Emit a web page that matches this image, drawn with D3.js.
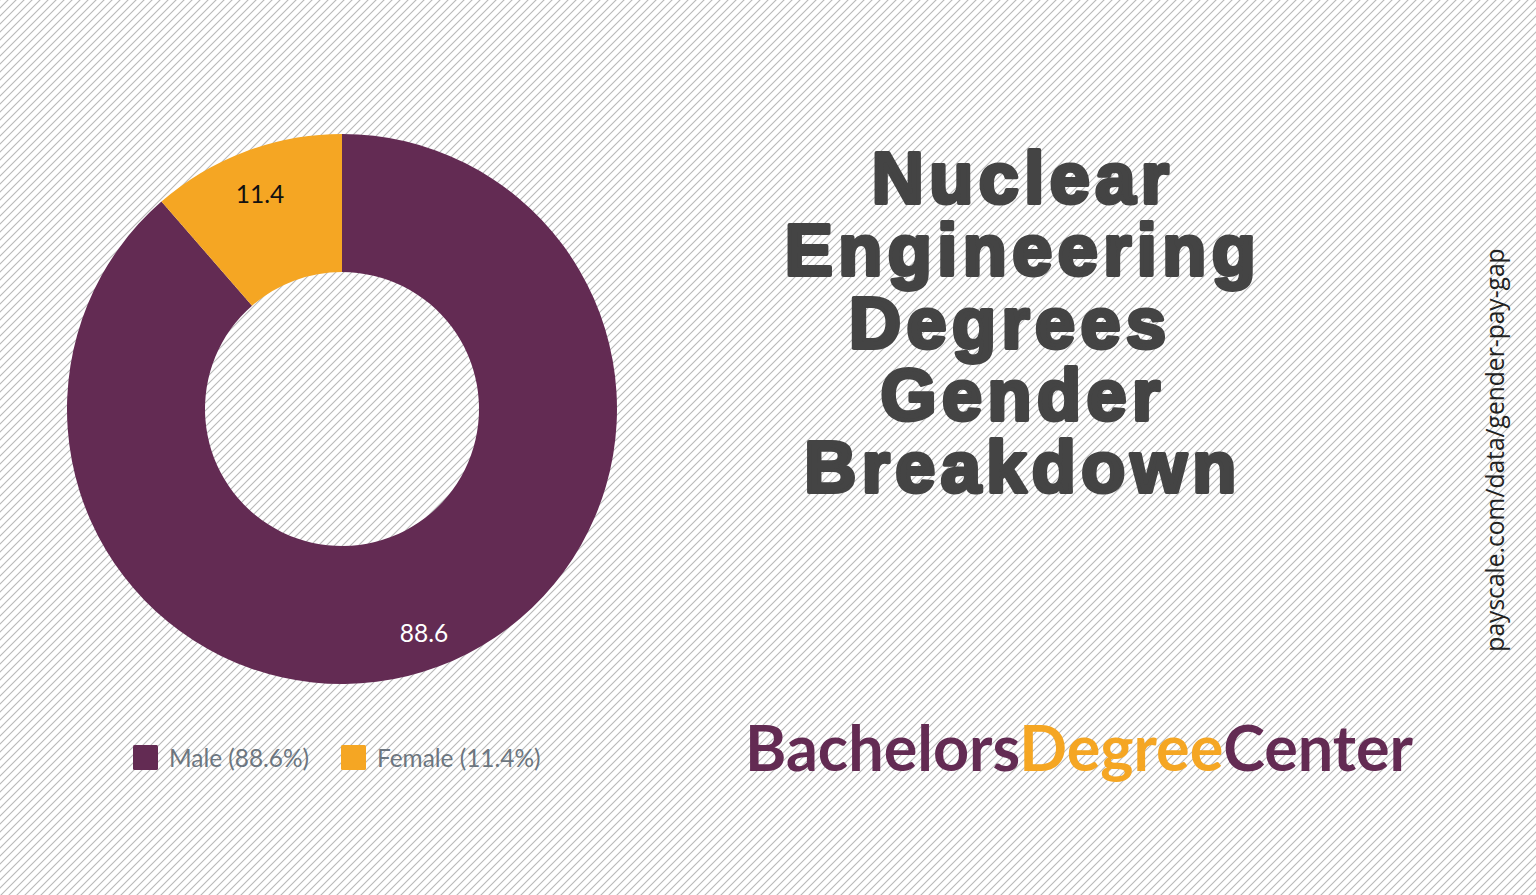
<!DOCTYPE html>
<html><head><meta charset="utf-8">
<script src="https://cdn.jsdelivr.net/npm/d3@7"></script>
<style>html,body{margin:0;padding:0;background:#fff;overflow:hidden}</style>
</head><body>
<svg id="chart" width="1536" height="895"></svg>
<script>
const categories = ["Male", "Female"];
const values = [88.6, 11.4];
const colors = ["#632b53", "#f5a623"];
const titleLines = ["Nuclear", "Engineering", "Degrees\u00a0", "Gender", "Breakdown"];
const sourceText = "payscale.com/data/gender-pay-gap";
const logoParts = [["Bachelors", "#632b53"], ["Degree", "#f5a623"], ["Center", "#632b53"]];

const svg = d3.select("#chart");
const defs = svg.append("defs");
const pat = defs.append("pattern").attr("id", "hatch").attr("patternUnits", "userSpaceOnUse")
  .attr("width", 8).attr("height", 8);
pat.append("rect").attr("width", 8).attr("height", 8).attr("fill", "#fff");
pat.append("path").attr("d", "M-2,2 L2,-2 M0,8 L8,0 M6,10 L10,6")
  .attr("stroke", "#b9b9b9").attr("stroke-width", 1.1);
svg.append("rect").attr("width", 1536).attr("height", 895).attr("fill", "url(#hatch)");

// Donut
const cx = 342, cy = 409, rO = 275, rI = 137;
const pie = d3.pie().sort(null).value(d => d.v);
const data = categories.map((c, i) => ({c, v: values[i], col: colors[i]}));
const arcs = pie(data);
const arc = d3.arc().innerRadius(rI).outerRadius(rO);
const g = svg.append("g").attr("transform", `translate(${cx},${cy})`);
g.selectAll("path").data(arcs).join("path").attr("d", arc).attr("fill", d => d.data.col);
const labelR = 234;
const labelArc = d3.arc().innerRadius(labelR).outerRadius(labelR);
g.selectAll("text").data(arcs).join("text")
  .attr("transform", d => { const p = labelArc.centroid(d); return `translate(${p[0]},${p[1]})`; })
  .attr("text-anchor", "middle").attr("dy", "0.55em")
  .attr("font-family", "Lato, sans-serif").attr("font-size", 24.5)
  .attr("fill", (d, i) => i === 0 ? "#ffffff" : "#111111")
  .text(d => d.data.v.toFixed(1));

// Legend
const legX = [133, 341];
const leg = svg.append("g");
data.forEach((d, i) => {
  leg.append("rect").attr("x", legX[i]).attr("y", 745).attr("width", 25).attr("height", 25)
    .attr("rx", 1.5).attr("fill", d.col);
  leg.append("text").attr("x", legX[i] + 36).attr("y", 767)
    .attr("font-family", "Lato, sans-serif").attr("font-size", 24.4).attr("fill", "#6c7680")
    .text(`${d.c} (${d.v.toFixed(1)}%)`);
});

// Title
const tg = svg.append("text").attr("text-anchor", "middle")
  .attr("font-family", "'Liberation Sans', Arial, sans-serif").attr("font-weight", 900)
  .attr("font-size", 72).attr("fill", "#444444")
  .attr("stroke", "#444444").attr("stroke-width", 4).attr("stroke-linejoin", "round")
  .style("letter-spacing", "5.5px");
titleLines.forEach((t, i) => {
  tg.append("tspan").attr("x", 1023).attr("y", 203 + i * 72.3).text(t);
});

// Logo
const lg = svg.append("text").attr("x", 745).attr("y", 771)
  .attr("font-family", "Lato, sans-serif").attr("font-weight", 700).attr("font-size", 64)
  .attr("textLength", 668).attr("lengthAdjust", "spacingAndGlyphs");
logoParts.forEach(p => lg.append("tspan").attr("fill", p[1]).text(p[0]));

// Source
svg.append("text").attr("transform", "translate(1504,450) rotate(-90)")
  .attr("text-anchor", "middle").attr("font-family", "'Open Sans', sans-serif")
  .attr("font-size", 24.6).attr("fill", "#222").text(sourceText);
</script>
</body></html>
